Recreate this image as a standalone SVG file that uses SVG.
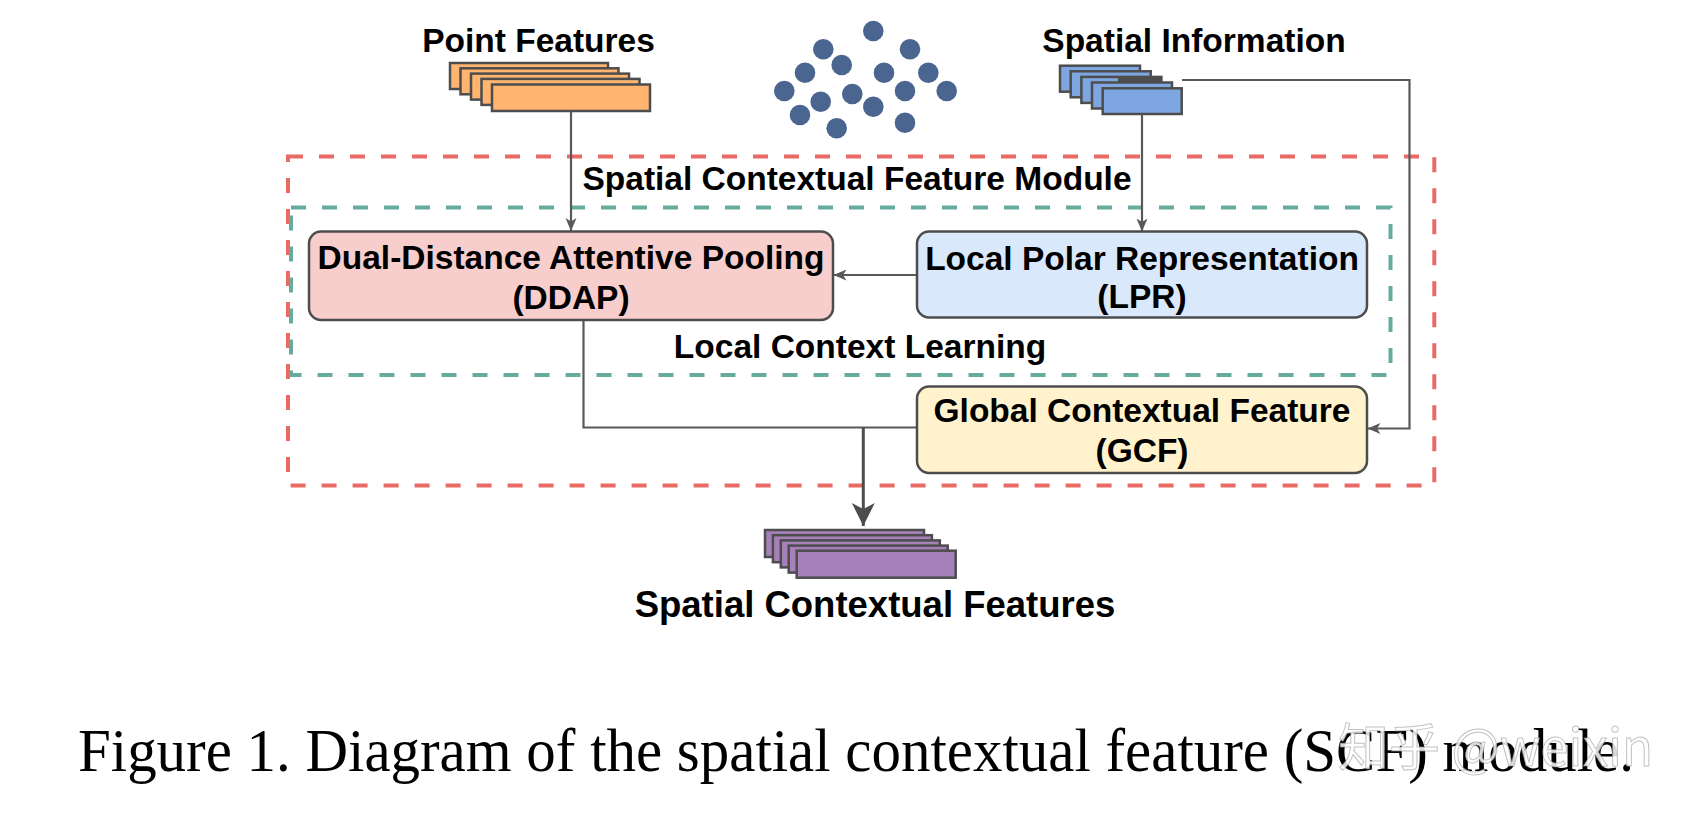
<svg xmlns="http://www.w3.org/2000/svg" width="1702" height="816" viewBox="0 0 1702 816">
<style>
  .lbl{font-family:"Liberation Sans",Arial,sans-serif;font-weight:bold;font-size:33.5px;fill:#000;text-anchor:middle}
  .node{stroke:#4d4d4d;stroke-width:2.5}
  .stk{stroke:#4d4d4d;stroke-width:2.5}
  .conn{fill:none;stroke:#595959;stroke-width:2.2}
  .dot{fill:#4b6591}
  .cap{font-family:"Liberation Serif","Times New Roman",serif;font-size:61px;fill:#000}
</style>
<defs>
  <marker id="arr" markerUnits="userSpaceOnUse" markerWidth="14" markerHeight="12" refX="13" refY="5.5" orient="auto">
    <path d="M0,0 L13,5.5 L0,11 L3.5,5.5 z" fill="#595959"/>
  </marker>
  <marker id="arrBig" markerUnits="userSpaceOnUse" markerWidth="24" markerHeight="24" refX="23" refY="11.5" orient="auto">
    <path d="M0,0 L23,11.5 L0,23 L6,11.5 z" fill="#4d4d4d"/>
  </marker>
</defs>
<rect width="1702" height="816" fill="#fff"/>

<g id="module-frame">
  <rect x="288" y="156.5" width="1146.3" height="329" fill="none" stroke="#EA6B66" stroke-width="4" stroke-dasharray="15 16"/>
  <text class="lbl" x="857" y="190">Spatial Contextual Feature Module</text>
</g>
<g id="local-context-frame">
  <rect x="291" y="207.5" width="1099.5" height="167.5" fill="none" stroke="#67AB9F" stroke-width="4" stroke-dasharray="15 16"/>
  <text class="lbl" x="860" y="358">Local Context Learning</text>
</g>

<g id="point-features">
  <text class="lbl" x="538.5" y="52">Point Features</text>
  <rect class="stk" x="450" y="63" width="158" height="26" fill="#FFB570"/>
  <rect class="stk" x="460.5" y="68.3" width="158" height="26" fill="#FFB570"/>
  <rect class="stk" x="471" y="73.6" width="158" height="26" fill="#FFB570"/>
  <rect class="stk" x="481.5" y="78.9" width="158" height="26" fill="#FFB570"/>
  <rect class="stk" x="492" y="84.5" width="158" height="26.5" fill="#FFB570"/>
</g>

<g id="point-cloud">
  <circle class="dot" cx="873.3" cy="31" r="10.3"/>
  <circle class="dot" cx="823.3" cy="49.3" r="10.3"/>
  <circle class="dot" cx="910" cy="49.3" r="10.3"/>
  <circle class="dot" cx="841.7" cy="65" r="10.3"/>
  <circle class="dot" cx="805" cy="72.7" r="10.3"/>
  <circle class="dot" cx="884" cy="72.7" r="10.3"/>
  <circle class="dot" cx="928.3" cy="72.7" r="10.3"/>
  <circle class="dot" cx="784.3" cy="91" r="10.3"/>
  <circle class="dot" cx="905" cy="91" r="10.3"/>
  <circle class="dot" cx="946.7" cy="91" r="10.3"/>
  <circle class="dot" cx="820.7" cy="101.7" r="10.3"/>
  <circle class="dot" cx="852.3" cy="94" r="10.3"/>
  <circle class="dot" cx="873.3" cy="106.7" r="10.3"/>
  <circle class="dot" cx="800" cy="115" r="10.3"/>
  <circle class="dot" cx="836.7" cy="128.3" r="10.3"/>
  <circle class="dot" cx="905" cy="122.7" r="10.3"/>
</g>

<g id="spatial-information">
  <text class="lbl" x="1194" y="52">Spatial Information</text>
  <rect class="stk" x="1060" y="65.7" width="80" height="26" fill="#7EA6E0"/>
  <rect class="stk" x="1070.7" y="71.3" width="80" height="26" fill="#7EA6E0"/>
  <rect class="stk" x="1081.4" y="76.9" width="80" height="26" fill="#7EA6E0"/>
  <rect x="1118" y="77" width="44" height="5" fill="#4d4d4d"/>
  <rect class="stk" x="1092" y="82.5" width="80" height="26" fill="#7EA6E0"/>
  <rect class="stk" x="1102.7" y="88.3" width="79" height="25.7" fill="#7EA6E0"/>
</g>

<g id="connectors">
  <path class="conn" d="M571,111 V231" marker-end="url(#arr)"/>
  <path class="conn" d="M1142,114 V231.5" marker-end="url(#arr)"/>
  <path class="conn" d="M917,275 H833.5" marker-end="url(#arr)"/>
  <path class="conn" d="M1182,80 H1409.5 V428.5 H1367.5" marker-end="url(#arr)"/>
  <path class="conn" d="M583.5,320 V427.5 H917"/>
  <path d="M863.3,427.5 V526" fill="none" stroke="#4d4d4d" stroke-width="3" marker-end="url(#arrBig)"/>
</g>

<g id="ddap">
  <rect class="node" x="309" y="231.5" width="524" height="88.5" rx="12" fill="#F8CECC"/>
  <text class="lbl" x="571" y="269">Dual-Distance Attentive Pooling</text>
  <text class="lbl" x="571" y="309">(DDAP)</text>
</g>
<g id="lpr">
  <rect class="node" x="917" y="231.5" width="450" height="86" rx="12" fill="#DAE8FC"/>
  <text class="lbl" x="1142" y="270">Local Polar Representation</text>
  <text class="lbl" x="1142" y="308">(LPR)</text>
</g>
<g id="gcf">
  <rect class="node" x="917" y="386.5" width="450" height="86.5" rx="12" fill="#FFF2CC"/>
  <text class="lbl" x="1142" y="421.7">Global Contextual Feature</text>
  <text class="lbl" x="1142" y="462">(GCF)</text>
</g>

<g id="spatial-contextual-features">
  <rect class="stk" x="765" y="530" width="159" height="27" fill="#A680B8"/>
  <rect class="stk" x="772.9" y="535.2" width="159" height="27" fill="#A680B8"/>
  <rect class="stk" x="780.8" y="540.4" width="159" height="27" fill="#A680B8"/>
  <rect class="stk" x="788.7" y="545.6" width="159" height="27" fill="#A680B8"/>
  <rect class="stk" x="796.7" y="550.7" width="159" height="27" fill="#A680B8"/>
  <text class="lbl" x="875" y="617" style="font-size:36.5px">Spatial Contextual Features</text>
</g>

<g id="caption">
  <text class="cap" x="78" y="771" textLength="1556" lengthAdjust="spacingAndGlyphs">Figure 1. Diagram of the spatial contextual feature (SCF) module.</text>
  <text x="1338" y="766" font-family="'Noto Sans CJK SC','Liberation Sans',sans-serif" font-size="51" fill="#ffffff" fill-opacity="0.85" stroke="#9a9a9a" stroke-width="1" stroke-opacity="0.6">知乎 @weixin</text>
</g>
</svg>
